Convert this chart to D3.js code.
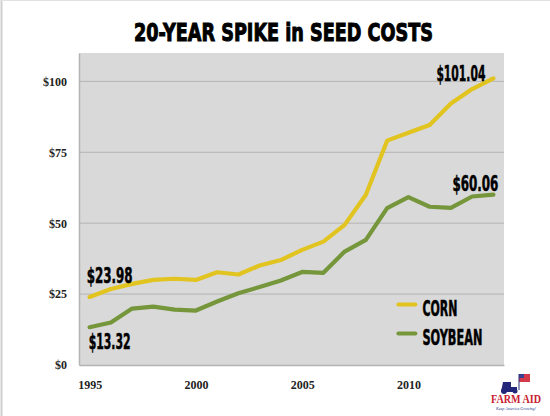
<!DOCTYPE html>
<html>
<head>
<meta charset="utf-8">
<script src="https://cdn.jsdelivr.net/npm/d3@7"></script>
<style>
  body { margin: 0; background: #fff; overflow: hidden; }
  svg { display: block; }
</style>
</head>
<body>
<div id="chart"></div>
<script>
var years = [1995, 1996, 1997, 1998, 1999, 2000, 2001, 2002, 2003, 2004,
             2005, 2006, 2007, 2008, 2009, 2010, 2011, 2012, 2013, 2014];
var corn = [23.98, 26.8, 28.6, 30.0, 30.4, 30.0, 32.7, 31.9, 35.1, 37.0,
            40.6, 43.5, 49.4, 60.0, 79.1, 81.9, 84.6, 92.2, 97.3, 101.04];
var soybean = [13.32, 15.0, 19.9, 20.6, 19.5, 19.2, 22.4, 25.3, 27.5, 29.8,
               32.8, 32.5, 40.0, 44.1, 55.3, 59.2, 55.8, 55.4, 59.4, 60.06];
var yTicks = [0, 25, 50, 75, 100];
var xTicks = [1995, 2000, 2005, 2010];
var seriesNames = ['CORN', 'SOYBEAN'];

var svgWidth = 550;
var svgHeight = 416;
var margin = { top: 53, right: 46, bottom: 51, left: 79 };
var width = svgWidth - margin.left - margin.right;
var height = svgHeight - margin.top - margin.bottom;

var svg = d3.select('#chart')
    .append('svg')
    .attr('width', svgWidth)
    .attr('height', svgHeight);

// faint frame on the left and top
svg.append('line').attr('x1', 1.5).attr('x2', 1.5).attr('y1', 0).attr('y2', svgHeight)
    .attr('stroke', '#cfcfcf').attr('stroke-width', 2);
svg.append('line').attr('x1', 0).attr('x2', svgWidth).attr('y1', 0.5).attr('y2', 0.5)
    .attr('stroke', '#e2e2e2').attr('stroke-width', 1);

svg.append('text')
    .attr('x', 283.5)
    .attr('y', 41)
    .attr('text-anchor', 'middle')
    .attr('textLength', 299)
    .attr('lengthAdjust', 'spacingAndGlyphs')
    .style('font-family', '"Liberation Sans Narrow", "DejaVu Sans Condensed", sans-serif')
    .style('font-weight', 'bold')
    .style('font-size', '25px')
    .style('stroke', '#000')
    .style('stroke-width', 1)
    .text('20-YEAR SPIKE in SEED COSTS');

var chartGroup = svg.append('g')
    .attr('transform', `translate(${margin.left}, ${margin.top})`);

var xScale = d3.scalePoint()
    .domain(years)
    .range([0, width])
    .padding(0.5);

var yScale = d3.scaleLinear()
    .domain([0, 110])
    .range([height, 0]);

chartGroup.append('rect')
    .attr('width', width)
    .attr('height', height)
    .attr('fill', '#d9d9d9');

chartGroup.selectAll('.grid')
    .data(yTicks.slice(1))
    .enter()
    .append('line')
    .attr('x1', 0)
    .attr('x2', width)
    .attr('y1', d => yScale(d))
    .attr('y2', d => yScale(d))
    .attr('stroke', '#b4b4b4')
    .attr('stroke-width', 1);

var yAxis = d3.axisLeft(yScale)
    .tickValues(yTicks)
    .tickSize(0)
    .tickPadding(12)
    .tickFormat(d => '$' + d);

var xAxis = d3.axisBottom(xScale)
    .tickValues(xTicks)
    .tickSize(0)
    .tickPadding(15);

var yG = chartGroup.append('g').call(yAxis);
var xG = chartGroup.append('g')
    .attr('transform', `translate(0, ${height})`)
    .call(xAxis);

[yG, xG].forEach(function(g) {
    g.select('.domain').attr('stroke', '#b4b4b4').attr('stroke-width', 1.5);
    g.selectAll('text')
        .style('font-family', '"Liberation Serif", "DejaVu Serif", serif')
        .style('font-size', '12px')
        .style('font-weight', 'bold')
        .style('fill', '#222');
});

var line = d3.line()
    .x((d, i) => xScale(years[i]))
    .y(d => yScale(d));

var colors = ['#e2c421', '#75963a'];

[corn, soybean].forEach(function(series, k) {
    chartGroup.append('path')
        .datum(series)
        .attr('d', line)
        .attr('fill', 'none')
        .attr('stroke', colors[k])
        .attr('stroke-width', 4.2)
        .attr('stroke-linejoin', 'round')
        .attr('stroke-linecap', 'round');
});

var labelFont = '"Liberation Sans Narrow", "DejaVu Sans Condensed", sans-serif';

function valueLabel(text, x, y, len) {
    chartGroup.append('text')
        .attr('x', x)
        .attr('y', y)
        .attr('textLength', len)
        .attr('lengthAdjust', 'spacingAndGlyphs')
        .style('font-family', labelFont)
        .style('font-weight', 'bold')
        .style('font-size', '21px')
        .style('stroke', '#000')
        .style('stroke-width', 0.5)
        .text(text);
}

var last = years.length - 1;
valueLabel('$' + corn[0].toFixed(2), xScale(years[0]) - 3, yScale(corn[0]) - 14, 46);
valueLabel('$' + soybean[0].toFixed(2), xScale(years[0]) - 1, yScale(soybean[0]) + 22, 42);
valueLabel('$' + corn[last].toFixed(2), xScale(years[last]) - 57, yScale(corn[last]) + 2.5, 49);
valueLabel('$' + soybean[last].toFixed(2), xScale(years[last]) - 41, yScale(soybean[last]) - 4, 46);

// legend
var legend = chartGroup.append('g')
    .attr('transform', `translate(${xScale(2010) - 10}, ${yScale(21.3)})`);

seriesNames.forEach(function(name, k) {
    var row = legend.append('g').attr('transform', `translate(0, ${k * 29})`);
    row.append('line')
        .attr('x1', 0).attr('x2', 17)
        .attr('stroke', colors[k])
        .attr('stroke-width', 4)
        .attr('stroke-linecap', 'round');
    row.append('text')
        .attr('x', 24)
        .attr('y', 11)
        .attr('textLength', k === 0 ? 35 : 60)
        .attr('lengthAdjust', 'spacingAndGlyphs')
        .style('font-family', labelFont)
        .style('font-weight', 'bold')
        .style('font-size', '21px')
        .style('stroke', '#000')
        .style('stroke-width', 0.5)
        .text(name);
});

// Farm Aid logo (rough)
var logo = svg.append('g').attr('transform', 'translate(491, 374)');
logo.append('rect').attr('x', 28).attr('y', 0).attr('width', 11).attr('height', 8).attr('fill', '#d33b4a');
logo.append('rect').attr('x', 28).attr('y', 0).attr('width', 5).attr('height', 4).attr('fill', '#3a3f8f');
logo.append('line').attr('x1', 28).attr('x2', 28).attr('y1', 0).attr('y2', 16).attr('stroke', '#2b2f7a').attr('stroke-width', 1);
logo.append('path')
    .attr('d', 'M12,8 h8 v5 h6 v5 h-16 z')
    .attr('fill', '#23287a');
logo.append('circle').attr('cx', 13).attr('cy', 17).attr('r', 3).attr('fill', '#23287a');
logo.append('circle').attr('cx', 24).attr('cy', 17).attr('r', 2.5).attr('fill', '#23287a');
logo.append('text')
    .attr('x', 0)
    .attr('y', 29)
    .attr('textLength', 50)
    .attr('lengthAdjust', 'spacingAndGlyphs')
    .style('font-family', '"Liberation Serif", serif')
    .style('font-weight', 'bold')
    .style('font-size', '12px')
    .style('fill', '#c8202f')
    .text('FARM AID');
logo.append('text')
    .attr('x', 5)
    .attr('y', 36)
    .attr('textLength', 40)
    .attr('lengthAdjust', 'spacingAndGlyphs')
    .style('font-family', '"Liberation Serif", serif')
    .style('font-style', 'italic')
    .style('font-size', '5px')
    .style('fill', '#2b3a8f')
    .text('Keep America Growing!');
</script>
</body>
</html>
